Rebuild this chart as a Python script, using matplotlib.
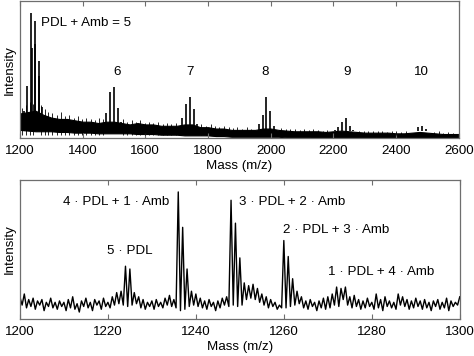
import numpy as np
import matplotlib.pyplot as plt

plt.rcParams['font.family'] = ['Liberation Sans', 'DejaVu Sans']

# ---- top panel: overview spectrum 1200-2600 ----
env_mass = np.arange(1200, 2601, 25)
env_hi = [0.18, 0.19, 0.20, 0.17, 0.15, 0.14, 0.14, 0.13,
          0.12, 0.12, 0.11, 0.12, 0.12, 0.11, 0.10, 0.11,
          0.10, 0.10, 0.09, 0.09, 0.09, 0.10, 0.10, 0.08,
          0.08, 0.07, 0.07, 0.06, 0.06, 0.06, 0.06, 0.07,
          0.07, 0.06, 0.055, 0.05, 0.05, 0.05, 0.05, 0.045,
          0.05, 0.055, 0.05, 0.045, 0.04, 0.04, 0.04, 0.04,
          0.035, 0.035, 0.04, 0.045, 0.04, 0.035, 0.03, 0.03,
          0.03]
env_lo = [0.06, 0.055, 0.05, 0.05, 0.05, 0.045, 0.045, 0.04,
          0.04, 0.04, 0.035, 0.035, 0.035, 0.035, 0.035, 0.03,
          0.03, 0.03, 0.025, 0.025, 0.025, 0.02, 0.02, 0.02,
          0.02, 0.015, 0.015, 0.01, 0.01, 0.01, 0.01, 0.01,
          0.01, 0.01, 0.005, 0.005, 0.005, 0.005, 0.0, 0.0,
          0.0, 0.0, 0.0, 0.0, 0.0, 0.0, 0.0, 0.0,
          0.0, 0.0, 0.0, 0.0, 0.0, 0.0, 0.0, 0.0,
          0.0]

# small noise spikes sticking out of the baseline band
spike_mass = [1206, 1219, 1231, 1243, 1266, 1279, 1291, 1303, 1318, 1330,
              1345, 1357, 1371, 1386, 1398, 1412, 1426, 1439, 1453, 1466,
              1530, 1543, 1557, 1571, 1584, 1598, 1612, 1626, 1641, 1655,
              1668, 1683, 1697, 1779, 1793, 1808, 1822, 1836, 1851, 1866,
              1880, 1894, 1909, 1923, 1937, 2034, 2049, 2063, 2078, 2093,
              2107, 2122, 2136, 2151, 2166, 2181, 2280, 2296, 2311, 2326,
              2341, 2356, 2371, 2386, 2401, 2416, 2431, 2521, 2536, 2551,
              2566, 2581]
spike_int = [0.22, 0.24, 0.26, 0.25, 0.24, 0.21, 0.19, 0.18, 0.17, 0.19,
             0.16, 0.17, 0.15, 0.16, 0.14, 0.15, 0.14, 0.13, 0.15, 0.14,
             0.14, 0.12, 0.13, 0.12, 0.13, 0.11, 0.12, 0.11, 0.12, 0.10,
             0.11, 0.10, 0.11, 0.10, 0.09, 0.10, 0.09, 0.08, 0.09, 0.08,
             0.075, 0.08, 0.07, 0.08, 0.07, 0.075, 0.07, 0.065, 0.07, 0.06,
             0.065, 0.06, 0.065, 0.06, 0.055, 0.06, 0.055, 0.05, 0.055, 0.05,
             0.055, 0.05, 0.045, 0.05, 0.055, 0.045, 0.05, 0.045, 0.05, 0.04,
             0.045, 0.04]

top_peak_mass = [1212, 1224, 1236, 1237, 1248, 1249, 1260, 1261, 1272, 1284,
                 1475, 1488, 1500, 1512, 1524,
                 1718, 1730, 1742, 1754, 1766,
                 1962, 1974, 1986, 1998, 2010,
                 2204, 2216, 2228, 2240, 2252, 2264,
                 2458, 2470, 2482, 2494, 2506]
top_peak_int = [0.20, 0.38, 0.91, 0.66, 0.855, 0.69, 0.565, 0.45, 0.23, 0.16,
                0.18, 0.34, 0.37, 0.22, 0.12,
                0.15, 0.25, 0.30, 0.21, 0.10,
                0.10, 0.17, 0.30, 0.20, 0.09,
                0.06, 0.08, 0.12, 0.15, 0.09, 0.06,
                0.05, 0.08, 0.09, 0.07, 0.05]

top_labels = ['PDL + Amb = 5', '6', '7', '8', '9', '10']
top_label_x = [1412, 1511, 1741, 1983, 2244, 2481]
top_label_y = [0.84, 0.485, 0.485, 0.485, 0.485, 0.485]

# ---- bottom panel: zoom 1200-1300 ----
mass = np.arange(1200, 1300.01, 0.5)
noise = [0.16, 0.10, 0.18, 0.08, 0.14, 0.09, 0.15, 0.07, 0.13, 0.10, 0.14, 0.06, 0.12, 0.09, 0.15, 0.08, 0.12, 0.07, 0.13, 0.09,
         0.12, 0.06, 0.14, 0.08, 0.16, 0.07, 0.11, 0.05, 0.13, 0.09, 0.15, 0.08, 0.12, 0.06, 0.14, 0.10, 0.13, 0.07, 0.15, 0.09,
         0.12, 0.08, 0.16, 0.10, 0.19, 0.11, 0.20, 0.10, 0.12, 0.09, 0.12, 0.10, 0.19, 0.11, 0.16, 0.08, 0.14, 0.07, 0.12, 0.09,
         0.13, 0.07, 0.14, 0.09, 0.12, 0.08, 0.15, 0.10, 0.17, 0.09, 0.14, 0.08, 0.12, 0.06, 0.12, 0.07, 0.12, 0.09, 0.12, 0.10,
         0.18, 0.09, 0.15, 0.08, 0.13, 0.07, 0.14, 0.09, 0.12, 0.06, 0.13, 0.08, 0.15, 0.10, 0.16, 0.09, 0.12, 0.10, 0.12, 0.09,
         0.12, 0.10, 0.12, 0.14, 0.12, 0.15, 0.12, 0.14, 0.22, 0.12, 0.18, 0.10, 0.16, 0.08, 0.14, 0.09, 0.12, 0.07, 0.10, 0.08,
         0.12, 0.08, 0.12, 0.09, 0.12, 0.10, 0.20, 0.11, 0.16, 0.08, 0.13, 0.07, 0.14, 0.09, 0.12, 0.06, 0.13, 0.08, 0.15, 0.07,
         0.16, 0.08, 0.18, 0.10, 0.12, 0.09, 0.12, 0.14, 0.12, 0.10, 0.16, 0.08, 0.17, 0.09, 0.14, 0.07, 0.13, 0.08, 0.15, 0.09,
         0.12, 0.07, 0.18, 0.08, 0.14, 0.06, 0.16, 0.09, 0.13, 0.08, 0.12, 0.07, 0.18, 0.10, 0.16, 0.09, 0.14, 0.07, 0.13, 0.08,
         0.15, 0.09, 0.13, 0.07, 0.14, 0.08, 0.12, 0.06, 0.13, 0.09, 0.14, 0.07, 0.12, 0.08, 0.15, 0.06, 0.13, 0.09, 0.12, 0.10,
         0.16]
peak_mass = [1224, 1225, 1236, 1237, 1238, 1239, 1248, 1249, 1250, 1251, 1252, 1253,
             1260, 1261, 1262, 1272, 1273, 1274, 1275]
peak_int = [0.38, 0.36, 0.915, 0.66, 0.36, 0.20, 0.855, 0.69, 0.44, 0.26, 0.24, 0.25,
            0.565, 0.45, 0.29, 0.23, 0.22, 0.23, 0.16]

bot_labels = ['4 · PDL + 1 · Amb', '5 · PDL', '3 · PDL + 2 · Amb',
              '2 · PDL + 3 · Amb', '1 · PDL + 4 · Amb']
bot_label_x = [1221.8, 1224.9, 1261.8, 1271.9, 1282.1]
bot_label_y = [0.84, 0.49, 0.84, 0.64, 0.34]

intensity = np.array(noise)
for m, h in zip(peak_mass, peak_int):
    intensity[np.searchsorted(mass, m)] = h

fs = 9.6
spine_col = '#6e6e6e'

fig = plt.figure(figsize=(4.74, 3.56), dpi=100)
ax1 = fig.add_axes([0.042, 0.612, 0.926, 0.385])
ax2 = fig.add_axes([0.042, 0.104, 0.928, 0.39])

ax1.fill_between(env_mass, env_lo, env_hi, color='black', lw=0.8)
ax1.vlines(spike_mass, 0.02, spike_int, color='black', lw=0.6)
ax1.vlines(top_peak_mass, 0.05, top_peak_int, color='black', lw=1.2)
for t, x, y in zip(top_labels, top_label_x, top_label_y):
    ax1.text(x, y, t, fontsize=fs, ha='center', va='center')
ax1.set_xlim(1200, 2600)
ax1.set_ylim(0, 1)
ax1.set_xticks(np.arange(1200, 2601, 200))

ax2.plot(mass, intensity, color='black', lw=1.0)
for t, x, y in zip(bot_labels, bot_label_x, bot_label_y):
    ax2.text(x, y, t, fontsize=fs, ha='center', va='center')
ax2.set_xlim(1200, 1300)
ax2.set_ylim(0, 1)
ax2.set_xticks(np.arange(1200, 1301, 20))

for ax in (ax1, ax2):
    ax.set_yticks([])
    ax.set_xlabel('Mass (m/z)', fontsize=fs, labelpad=2)
    ax.set_ylabel('Intensity', fontsize=fs, labelpad=3)
    ax.tick_params(axis='x', direction='in', top=True, length=3.5, width=0.8,
                   color=spine_col, labelsize=fs, pad=5)
    for s in ax.spines.values():
        s.set_color(spine_col)
        s.set_linewidth(0.9)

fig.savefig('out.png', dpi=100)
